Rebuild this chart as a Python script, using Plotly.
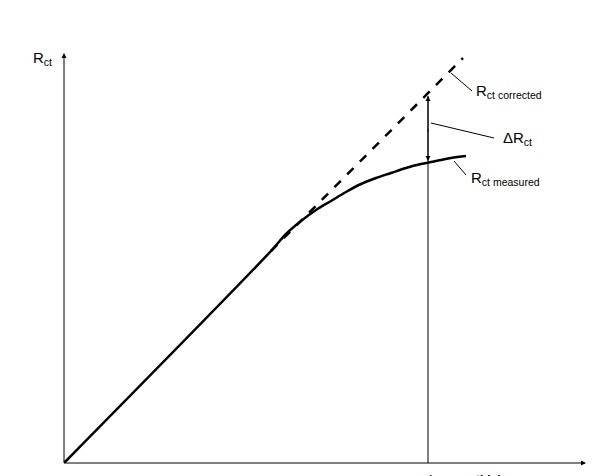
import plotly.graph_objects as go

# coordinates in drawing units (origin at the axes corner)
meas_x = [0, 207, 222, 237, 252, 267, 282, 297, 312, 327, 342, 357, 372, 387, 402]
meas_y = [0, 212, 229, 242, 253, 262, 271, 279, 285, 290, 295, 299, 302, 305, 307]
corr_x = [207, 399]
corr_y = [212, 405]
d_x = 364
d_top = 367

fig = go.Figure()
fig.add_trace(go.Scatter(x=meas_x, y=meas_y, mode="lines", line=dict(color="black", width=2.5, shape="spline")))
fig.add_trace(go.Scatter(x=corr_x, y=corr_y, mode="lines", line=dict(color="black", width=2.5, dash="dash")))
fig.add_trace(go.Scatter(x=[d_x, d_x], y=[0, d_top], mode="lines", line=dict(color="black", width=1)))

ann = []
def arrow(x0, y0, x1, y1, head=2):
    ann.append(dict(x=x1, y=y1, ax=x0, ay=y0, xref="x", yref="y", axref="x", ayref="y",
                    showarrow=True, arrowhead=head, arrowsize=1, arrowwidth=1, arrowcolor="black", text=""))

arrow(0, 0, 522, 0)       # x axis
arrow(0, 0, 0, 410)       # y axis
arrow(d_x, 330, d_x, d_top)  # delta arrow top
arrow(d_x, 335, d_x, 302)    # delta arrow bottom

def line(x0, y0, x1, y1):
    fig.add_shape(type="line", x0=x0, y0=y0, x1=x1, y1=y1, line=dict(color="black", width=1))

line(387, 390, 408, 372)
line(367, 340, 430, 325)
line(390, 302, 402, 288)

f = dict(family="Liberation Sans, Arial", size=15, color="black")
def label(x, y, t, anchor="left"):
    ann.append(dict(x=x, y=y, xref="x", yref="y", text=t, showarrow=False, font=f, xanchor=anchor))

label(-33, 405, "R<sub>ct</sub>")
label(410, 372, "R<sub>ct corrected</sub>")
label(437, 325, "ΔR<sub>ct</sub>")
label(405, 285, "R<sub>ct measured</sub>")
label(d_x, -17, "d", "center")
label(410, -17, "<b>thickness</b>")
ann[-1]["font"] = dict(family="Liberation Sans, Arial", size=12, color="black")

fig.update_layout(
    width=600, height=476, margin=dict(l=0, r=0, t=0, b=0),
    plot_bgcolor="white", paper_bgcolor="white", showlegend=False,
    xaxis=dict(range=[-56, 544], visible=False),
    yaxis=dict(range=[-21, 455], visible=False),
    annotations=ann,
)
fig.write_html("out.html")
